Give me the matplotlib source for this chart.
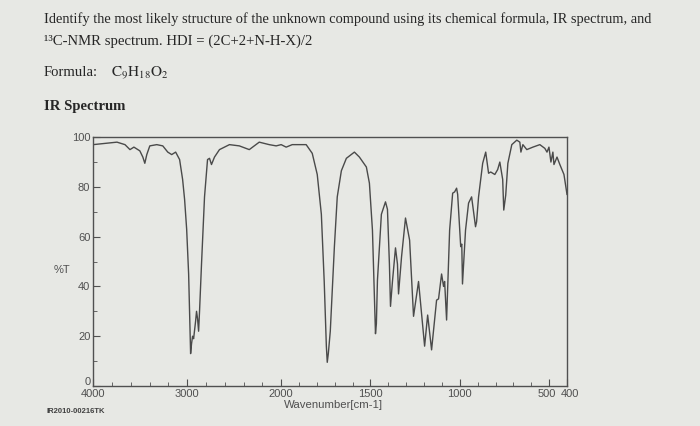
import numpy as np
import matplotlib
matplotlib.use('Agg')
from matplotlib import pyplot as plt
from matplotlib import font_manager
from matplotlib.ticker import FixedLocator, FixedFormatter
from matplotlib.transforms import ScaledTranslation

# spectrum: wavenumber (cm-1) and %T
wavenumber = [4000, 3873, 3746, 3661, 3608, 3566, 3503, 3471, 3450, 3429, 3397, 3323,
              3259, 3206, 3164, 3122, 3080, 3048, 3027, 3005, 2984, 2974, 2963, 2953,
              2942, 2931, 2910, 2900, 2889, 2878, 2868, 2847, 2815, 2783, 2762, 2741,
              2709, 2656, 2550, 2445, 2339, 2233, 2127, 2053, 2000, 1972, 1938, 1860,
              1826, 1798, 1775, 1759, 1747, 1742, 1736, 1725, 1702, 1686, 1663, 1635,
              1590, 1562, 1523, 1506, 1489, 1478, 1472, 1467, 1461, 1439, 1416, 1405,
              1394, 1388, 1377, 1360, 1349, 1343, 1326, 1304, 1281, 1259, 1231, 1197,
              1180, 1158, 1130, 1119, 1102, 1091, 1085, 1074, 1057, 1040, 1029, 1018,
              1012, 995, 989, 985, 968, 951, 934, 923, 912, 906, 895, 872, 855, 839,
              827, 804, 788, 776, 760, 754, 743, 731, 709, 681, 664, 658, 647, 625,
              591, 552, 524, 512, 501, 490, 479, 473, 456, 440, 417, 400]
transmittance = [97, 97.5, 98, 97, 95, 96, 94.5, 92, 89.5, 93, 96.5, 97,
                 96.5, 94, 93, 94, 91, 83, 75, 63, 45, 30, 13, 17,
                 20, 19, 26, 30, 27, 22, 30, 49, 76, 91, 91.5, 89,
                 92, 95, 97, 96.5, 95, 98, 97, 96.5, 97, 96, 97, 97,
                 93.5, 85, 69, 42, 16, 9.5, 13, 22, 56, 76, 86.5, 91.5,
                 94, 92, 88, 81.5, 62.6, 36, 21, 25, 42.5, 69, 74, 71,
                 49, 32, 42, 55.5, 49, 37, 52, 67.5, 58.6, 28, 42, 16,
                 28.5, 14.5, 34.5, 35, 45, 40, 42, 26.5, 62.6, 77.5, 78, 79.5,
                 77, 56, 57, 41, 62.6, 73.5, 76, 70, 64, 66, 76, 89.5, 94, 85.5,
                 86, 85, 87, 90, 83, 70.7, 76.7, 89.5, 97, 98.8, 98, 94, 97, 95,
                 96, 97, 95.5, 94, 96, 90, 94, 89, 92, 89, 85, 77]

x_major = [4000, 3000, 2000, 1500, 1000, 500, 400]
x_labels = ['4000', '3000', '2000', '1500', '1000', '500', '400']
y_major = [0, 20, 40, 60, 80, 100]

SQUEEZE = 1.9  # the 4000-2000 part is drawn squeezed


def fwd(w):
    w = np.asarray(w, dtype=float)
    return np.where(w > 2000, 2000 + (w - 2000) / SQUEEZE, w)


def inv(u):
    u = np.asarray(u, dtype=float)
    return np.where(u > 2000, 2000 + (u - 2000) * SQUEEZE, u)


def shift(label, dx, dy):
    label.set_transform(label.get_transform() + ScaledTranslation(dx / 100, dy / 100, fig.dpi_scale_trans))


# the instrument labels use a narrow sans; take one if it is installed
installed = {f.name for f in font_manager.fontManager.ttflist}
sans = 'Liberation Sans Narrow' if 'Liberation Sans Narrow' in installed else 'Liberation Sans'

bg = '#e7e8e4'
grey = '#505050'
ink = '#262626'
fig = plt.figure(figsize=(7, 4.26), dpi=100, facecolor=bg)

serif = 'Liberation Serif'
plt.rcParams['mathtext.fontset'] = 'stix'
fig.text(0.063, 0.955, 'Identify the most likely structure of the unknown compound using its '
         'chemical formula, IR spectrum, and', family=serif, fontsize=10.4,
         color=ink, va='center')
fig.text(0.063, 0.904, '¹³C-NMR spectrum. HDI = (2C+2+N-H-X)/2', family=serif,
         fontsize=10.6, color=ink, va='center')
fig.text(0.063, 0.829, 'Formula:', family=serif, fontsize=10.6, color=ink, va='center')
fig.text(0.158, 0.829, r'$\mathrm{C_9H_{18}O_2}$', fontsize=11, color=ink, va='center')
fig.text(0.063, 0.749, 'IR Spectrum', family=serif, fontsize=10.6, weight='bold',
         color=ink, va='center')

ax = fig.add_axes([0.133, 0.094, 0.677, 0.584])
ax.set_facecolor(bg)
ax.set_xscale('function', functions=(fwd, inv))
ax.plot(wavenumber, transmittance, color='#4a4a4a', lw=1.0)
ax.set_xlim(4000, 400)
ax.set_ylim(0, 100)

ax.xaxis.set_major_locator(FixedLocator(x_major))
ax.xaxis.set_major_formatter(FixedFormatter(x_labels))
ax.xaxis.set_minor_locator(FixedLocator(list(range(500, 2000, 100)) + list(range(2200, 4000, 200))))
ax.set_yticks(y_major)
ax.yaxis.set_minor_locator(FixedLocator(list(range(10, 100, 20))))

tick_size = 9 if sans.endswith('Narrow') else 8
ax.tick_params(which='both', direction='in', color=grey, labelcolor=grey, labelsize=tick_size,
               pad=2, top=False, right=False)
ax.tick_params(which='major', length=5)
ax.tick_params(which='minor', length=3)
for lab in ax.get_xticklabels() + ax.get_yticklabels():
    lab.set_family(sans)

fig.canvas.draw()
# "0" sits just above "4000"; "500" and "400" are pushed a little apart
shift(ax.get_yticklabels()[0], 0, 5)
shift(ax.get_xticklabels()[5], -2, 0)
shift(ax.get_xticklabels()[6], 2.5, 0)

for s in ax.spines.values():
    s.set_color(grey)
    s.set_linewidth(1.0)

fig.text(0.088, 0.366, '%T', family=sans, fontsize=tick_size, color=grey,
         ha='center', va='center')
fig.text(0.476, 0.050, 'Wavenumber[cm-1]', family=sans, fontsize=8.2,
         color=grey, ha='center', va='center')
fig.text(0.067, 0.035, 'IR2010-00216TK', family='Liberation Sans', fontsize=5.5,
         weight='bold', color='#404040', va='center')

fig.savefig('out.png', dpi=100, facecolor=bg)
